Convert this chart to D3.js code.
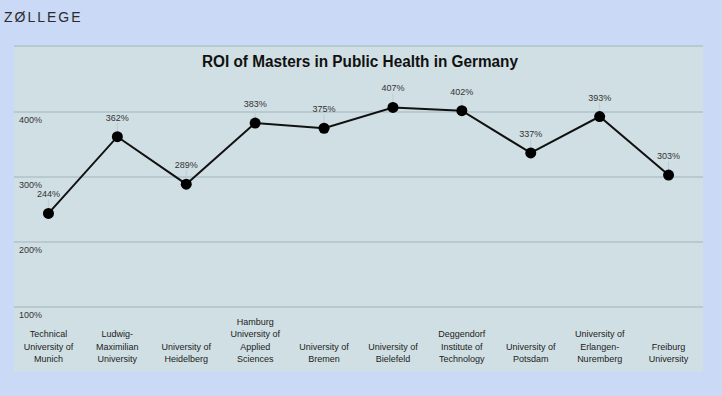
<!DOCTYPE html>
<html>
<head>
<meta charset="utf-8">
<script src="https://cdn.jsdelivr.net/npm/d3@7"></script>
<style>
  body { margin: 0; background: #c9d9f6; }
  svg { display: block; font-family: "Liberation Sans", Arial, sans-serif; }
</style>
</head>
<body>
<script>
// Chart data
var categories = [
  ["Technical", "University of", "Munich"],
  ["Ludwig-", "Maximilian", "University"],
  ["University of", "Heidelberg"],
  ["Hamburg", "University of", "Applied", "Sciences"],
  ["University of", "Bremen"],
  ["University of", "Bielefeld"],
  ["Deggendorf", "Institute of", "Technology"],
  ["University of", "Potsdam"],
  ["University of", "Erlangen-", "Nuremberg"],
  ["Freiburg", "University"]
];
var roiValues = [244, 362, 289, 383, 375, 407, 402, 337, 393, 303];
var yTicks = [100, 200, 300, 400];

drawChart();

function drawChart(){

  var w = 722;
  var h = 396;

  var svg = d3.select("body")
              .append("svg")
              .attr("width", w)
              .attr("height", h);

  // Logo
  svg.append("text")
     .attr("x", 4)
     .attr("y", 22)
     .attr("font-size", 14)
     .attr("letter-spacing", 2)
     .attr("fill", "#2b2b2b")
     .text("Z\u00D8LLEGE");

  // Panel
  var panel = {left: 14, right: 703, top: 46, bottom: 372};
  svg.append("rect")
     .attr("x", panel.left)
     .attr("y", panel.top)
     .attr("width", panel.right - panel.left)
     .attr("height", panel.bottom - panel.top)
     .attr("fill", "#d0dfe3");

  svg.append("line")
     .attr("x1", panel.left).attr("x2", panel.right)
     .attr("y1", panel.top).attr("y2", panel.top)
     .attr("stroke", "#b2c2cb")
     .attr("stroke-width", 1.5);

  // Title
  svg.append("text")
     .attr("x", 360)
     .attr("y", 67)
     .attr("text-anchor", "middle")
     .attr("font-size", 16)
     .attr("font-weight", "bold")
     .attr("textLength", 316)
     .attr("lengthAdjust", "spacingAndGlyphs")
     .attr("fill", "#111")
     .text("ROI of Masters in Public Health in Germany");

  // Scales
  var xScale = d3.scalePoint()
                 .domain(d3.range(categories.length))
                 .range([panel.left, panel.right])
                 .padding(0.5);

  var yScale = d3.scaleLinear()
                 .domain([100, 400])
                 .range([307, 112]);

  // Gridlines and tick labels
  var grid = svg.append("g");
  grid.selectAll("line")
      .data(yTicks)
      .enter()
      .append("line")
      .attr("x1", panel.left)
      .attr("x2", panel.right)
      .attr("y1", d => yScale(d))
      .attr("y2", d => yScale(d))
      .attr("stroke", "#b2c2ca")
      .attr("stroke-width", 1.5);

  grid.selectAll("text")
      .data(yTicks)
      .enter()
      .append("text")
      .attr("x", 19)
      .attr("y", d => yScale(d) + 11)
      .attr("font-size", 9)
      .attr("fill", "#333")
      .text(d => d + "%");

  // Leader lines from labels to points
  svg.selectAll(".leader")
     .data(roiValues)
     .enter()
     .append("line")
     .attr("class", "leader")
     .attr("x1", (d, i) => xScale(i))
     .attr("x2", (d, i) => xScale(i))
     .attr("y1", d => yScale(d) - 14)
     .attr("y2", d => yScale(d))
     .attr("stroke", "#bfcdd2")
     .attr("stroke-width", 1);

  // Line
  var line = d3.line()
               .x((d, i) => xScale(i))
               .y(d => yScale(d));

  svg.append("path")
     .datum(roiValues)
     .attr("d", line)
     .attr("fill", "none")
     .attr("stroke", "#111")
     .attr("stroke-width", 2);

  // Points
  svg.selectAll(".dot")
     .data(roiValues)
     .enter()
     .append("circle")
     .attr("class", "dot")
     .attr("cx", (d, i) => xScale(i))
     .attr("cy", d => yScale(d))
     .attr("r", 5.5)
     .attr("fill", "#000");

  // Value labels
  svg.selectAll(".val")
     .data(roiValues)
     .enter()
     .append("text")
     .attr("class", "val")
     .attr("x", (d, i) => xScale(i))
     .attr("y", d => yScale(d) - 16)
     .attr("text-anchor", "middle")
     .attr("font-size", 9)
     .attr("fill", "#333")
     .text(d => d + "%");

  // Category labels, bottom aligned
  var lineH = 12.3;
  var cats = svg.selectAll(".cat")
                .data(categories)
                .enter()
                .append("text")
                .attr("class", "cat")
                .attr("text-anchor", "middle")
                .attr("font-size", 9)
                .attr("fill", "#222");

  cats.each(function(lines, i){
    var t = d3.select(this);
    lines.forEach(function(s, j){
      t.append("tspan")
       .attr("x", xScale(i))
       .attr("y", 362 - (lines.length - 1 - j) * lineH)
       .text(s);
    });
  });

};
</script>
</body>
</html>
